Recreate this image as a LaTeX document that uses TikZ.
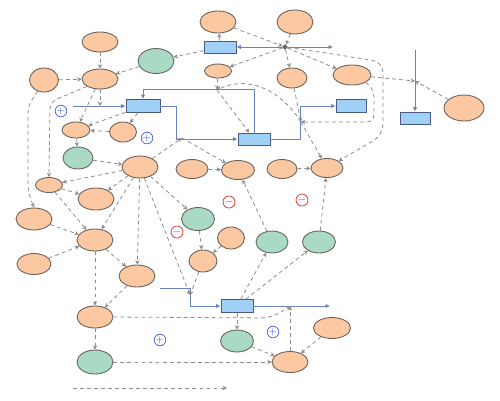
\documentclass[tikz,border=0pt]{standalone}
\usepackage{tikz}
\usepackage{xcolor}
\usetikzlibrary{shapes.geometric, arrows.meta}

\definecolor{stockfill}{RGB}{252,200,162}
\definecolor{auxfill}{RGB}{168,218,196}
\definecolor{ratefill}{RGB}{160,208,245}
\definecolor{edgegray}{RGB}{105,98,92}
\definecolor{flowblue}{RGB}{105,130,188}
\definecolor{linkgray}{RGB}{140,140,140}
\definecolor{signblue}{RGB}{70,95,215}
\definecolor{signred}{RGB}{225,40,40}

\begin{document}
\begin{tikzpicture}[
        x=0.02cm, y=-0.02cm,
        stock/.style={ellipse, draw=edgegray, fill=stockfill, line width=0.5pt, inner sep=0pt},
        aux/.style={ellipse, draw=edgegray, fill=auxfill, line width=0.5pt, inner sep=0pt},
        rate/.style={rectangle, draw=flowblue!70!black, fill=ratefill, line width=0.5pt, inner sep=0pt},
        flow/.style={-{Latex[length=2.5pt,width=2.5pt]}, flowblue, line width=0.45pt},
        link/.style={-{Stealth[length=2.5pt,width=2.5pt]}, linkgray, dash pattern=on 2.2pt off 1.8pt, line width=0.45pt},
        valve/.style={diamond, fill=gray!80!black, inner sep=0pt, minimum size=0.12cm},
        sign/.style={circle, draw, inner sep=0pt, minimum size=0.18cm, font=\tiny, line width=0.4pt}
    ]

        % Frame
        \useasboundingbox (0,0) rectangle (500,400);

        % Stocks (orange)
        \foreach \n/\x/\y/\w/\h in {o1/218/22/36/22, o2/295/22/36/24, o3/100/42/36/20,
                o5/218/71/27/14, o6/292/78/30/20, o7/352/75/38/20, o8/44/80/29/24,
                o9/100/79/36/20, o10/464/108/40/26, o11/76/130/28/16, o12/123/132/27/20,
                o14/140/167/36/22, o15/192/169/32/19, o16/238/170/33/19, o17/282/169/30/19,
                o18/327/168/32/19, o19/49/185/27/15, o20/96/199/36/22, o21/34/219/36/22,
                o23/95/240/36/22, o24/231/238/27/22, o27/203/261/28/22, o28/34/264/34/21,
                o29/137/276/36/22, o30/95/317/36/22, o32/332/328/37/21, o34/290/362/36/21} {
            \node[stock, minimum width=\w*0.02cm, minimum height=\h*0.02cm] (\n) at (\x,\y) {};
        }

        % Auxiliaries (green)
        \foreach \n/\x/\y/\w/\h in {g4/156/61/36/25, g13/78/158/30/22, g22/198/219/33/23,
                g25/272/242/32/22, g26/319/242/33/22, g31/237/341/33/22, g33/95/362/36/24} {
            \node[aux, minimum width=\w*0.02cm, minimum height=\h*0.02cm] (\n) at (\x,\y) {};
        }

        % Rates (boxes)
        \foreach \n/\x/\y/\w/\h in {b1/220/47/32/12, b2/143/106/34/13, b3/351/106/30/13,
                b4/415/118/30/12, b5/254/139/32/12, b6/237/306/32/13} {
            \node[rate, minimum width=\w*0.02cm, minimum height=\h*0.02cm] (\n) at (\x,\y) {};
        }

        % Junctions, sources and sinks
        \node[valve] (j1) at (285,47) {};
        \coordinate (j2) at (415,81);
        \coordinate (j3) at (100,106);
        \coordinate (j4) at (217,90);
        \coordinate (j5) at (301,122);
        \coordinate (j6) at (182,138);
        \coordinate (j7) at (190,295);
        \coordinate (j8) at (290,306);
        \coordinate (s1) at (333,47);
        \coordinate (s2) at (415,50);
        \coordinate (s3) at (73,106);
        \coordinate (s4) at (160,288);
        \coordinate (s5) at (330,306);
        \coordinate (bl) at (73,388);
        \coordinate (br) at (227,388);

        % Flows
        \draw[flow] (j1) -- (b1);
        \draw[flow] (j1) -- (s1);
        \draw[flow] (s2) -- (b4.north);
        \draw[flow] (s3) -- (b2.west);
        \draw[flow] (b2.east) -- ++(16,0) |- (b5.west);
        \draw[flow] (b5.north) -- ++(0,-43) -| (b2.north);
        \draw[flow] (b5.east) -- ++(30,0) |- (b3.west);
        \draw[flow] (s4) -- ++(30,0) |- (b6.west);
        \draw[flow] (b6.east) -- (s5);

        % Links
        \foreach \a/\b in {b1/o1, o1/j1, o2/j1, j1/o5, j1/o6, j1/o7, b1/g4, g4/o9, o3/o9,
                o8/o9, o9/o11, o9/j3, b2/o11, b2/o12, o12/o11, o11/g13, g13/o14, o14/j6,
                j6/o16, o15/o16, o17/o18, o14/o19, o14/o20, o14/o23, o14/o29, o14/g22,
                o14/j7, o19/o20, o19/o23, o21/o23, o28/o23, o23/o29, o23/o30, o29/o30,
                o30/g33, g33/o34, g22/o27, o24/o27, o27/j7, g25/o16, g26/o18, b6/g25,
                b6/g26, b6/g31, g31/o34, o32/o34, o34/j8, o5/j4, j4/b5, o6/j5, j5/o18,
                o7/j2, o10/j2} {
            \draw[link] (\a) -- (\b);
        }
        \draw[link, rounded corners=6] (j1) -- (320,52) -- (383,62) -- (383,135) -- (o18.north east);
        \draw[link] (j5) .. controls (282,92) and (250,74) .. (j4);
        \draw[link, rounded corners=4] (o7.south east) -- (374,90) -- (374,122) -- (j5);
        \draw[link, rounded corners=4] (o9.south west) -- (50,102) -- (o19.north);
        \draw[link, rounded corners=4] (o8.240) -- (28,106) -- (28,192) -- (o21.north);
        \draw[link, rounded corners=6] (o30.east) -- (272,318) -- (j8);
        \draw[link] (bl) -- (br);

        % Loop polarity
        \foreach \n/\x/\y/\s/\c in {p1/61/111/+/signblue, p2/147/138/+/signblue,
                p3/160/340/+/signblue, p4/273/332/+/signblue, m1/229/202/-/signred,
                m2/302/200/-/signred, m3/177/232/-/signred} {
            \node[sign, draw=\c, text=\c] (\n) at (\x,\y) {$\s$};
        }

    \end{tikzpicture}
\end{document}
